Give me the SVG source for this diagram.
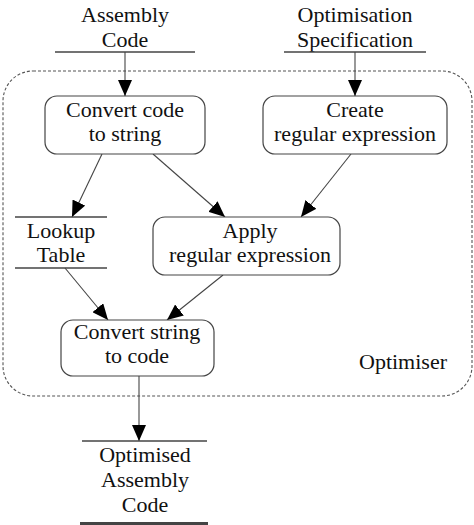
<svg xmlns="http://www.w3.org/2000/svg" width="474" height="525" viewBox="0 0 474 525">
<style>
text{font-size:22px;fill:#111;text-anchor:middle}
.box{fill:#fff;stroke:#444;stroke-width:1.2}
.store{stroke:#444;stroke-width:1.3}
.edge{stroke:#444;stroke-width:1.1;fill:none;marker-end:url(#ah)}
.cluster{fill:none;stroke:#555;stroke-width:1.1;stroke-dasharray:3 2}
</style>
<defs>
<marker id="ah" markerUnits="userSpaceOnUse" markerWidth="16" markerHeight="14" viewBox="0 0 16 14" refX="16" refY="7" orient="auto">
<path d="M0,0 L16,7 L0,14 Z" fill="#000"/>
</marker>
</defs>
<g font-family="'Liberation Serif', 'Times New Roman', Times, serif">
<g id="optimiser">
<rect class="cluster" x="3" y="71" width="469" height="325" rx="30" ry="30"/>
<text x="403" y="369">Optimiser</text>
</g>
<g id="connectors">
<line class="edge" x1="125" y1="52" x2="125" y2="96"/>
<line class="edge" x1="355" y1="52" x2="355" y2="96"/>
<line class="edge" x1="102" y1="154" x2="72" y2="217"/>
<line class="edge" x1="153" y1="154" x2="225" y2="217"/>
<line class="edge" x1="351" y1="154" x2="301" y2="217"/>
<line class="edge" x1="65" y1="268" x2="108" y2="320"/>
<line class="edge" x1="223" y1="275" x2="167" y2="320"/>
<line class="edge" x1="139" y1="376" x2="139" y2="441"/>
</g>
<g id="assembly-code">
<text x="125" y="22">Assembly</text>
<text x="125" y="47">Code</text>
<line class="store" x1="55" y1="52" x2="195" y2="52"/>
</g>
<g id="optimisation-spec">
<text x="355" y="22">Optimisation</text>
<text x="355" y="47">Specification</text>
<line class="store" x1="284" y1="52" x2="426" y2="52"/>
</g>
<g id="convert-code">
<rect class="box" x="45" y="96" width="160" height="58" rx="12" ry="12"/>
<text x="125" y="117">Convert code</text>
<text x="125" y="141">to string</text>
</g>
<g id="create-regex">
<rect class="box" x="263" y="96" width="184" height="58" rx="12" ry="12"/>
<text x="355" y="117">Create</text>
<text x="355" y="141">regular expression</text>
</g>
<g id="lookup-table">
<line class="store" x1="15" y1="217" x2="107" y2="217"/>
<text x="61" y="238">Lookup</text>
<text x="61" y="262">Table</text>
<line class="store" x1="15" y1="268" x2="107" y2="268"/>
</g>
<g id="apply-regex">
<rect class="box" x="153" y="217" width="187" height="58" rx="12" ry="12"/>
<text x="250" y="238">Apply</text>
<text x="250" y="262">regular expression</text>
</g>
<g id="convert-string">
<rect class="box" x="61" y="320" width="153" height="56" rx="12" ry="12"/>
<text x="137" y="339">Convert string</text>
<text x="137" y="363">to code</text>
</g>
<g id="optimised-code">
<line class="store" x1="82" y1="441" x2="207" y2="441"/>
<text x="145" y="462">Optimised</text>
<text x="145" y="487">Assembly</text>
<text x="145" y="512">Code</text>
<line x1="80" y1="523.5" x2="208" y2="523.5" stroke="#444" stroke-width="3"/>
</g>
</g>
</svg>
